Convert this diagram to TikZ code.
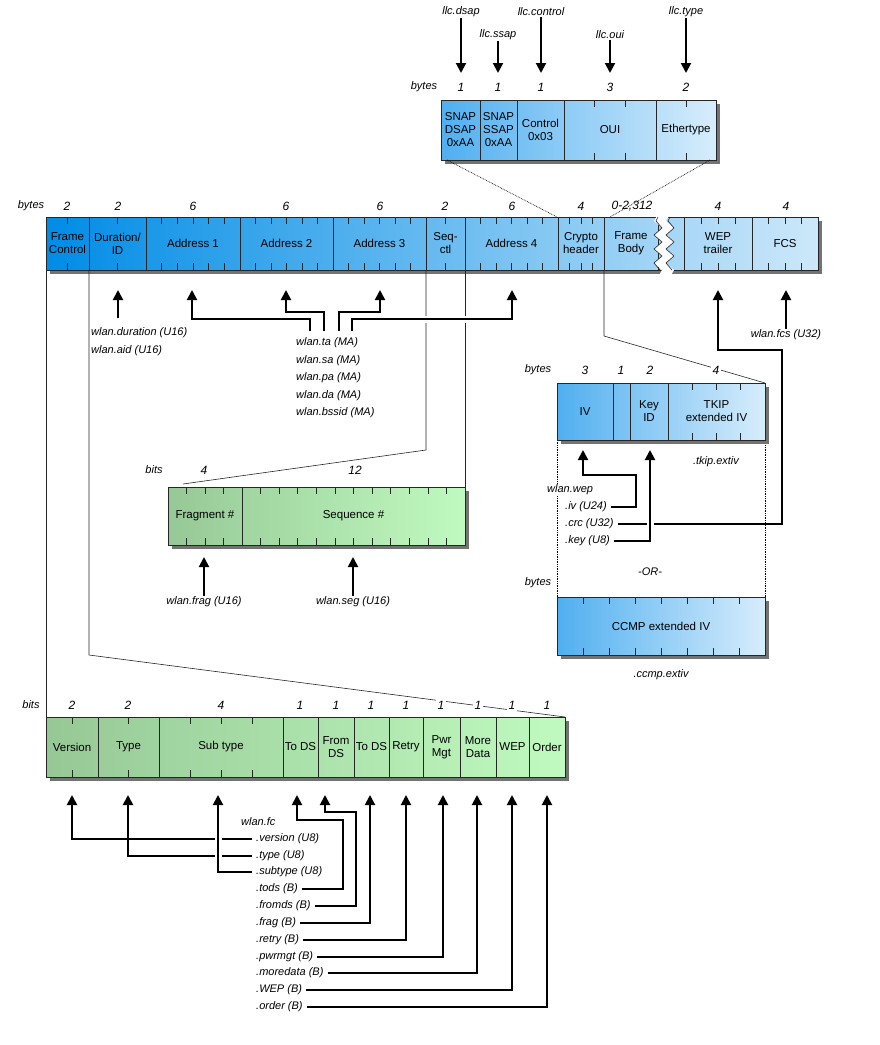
\documentclass[tikz,border=0pt]{standalone}
\usepackage{fontspec}
\setmainfont{Liberation Sans}
\usetikzlibrary{arrows.meta}
\definecolor{mainL}{RGB}{0,140,230}
\definecolor{mainR}{RGB}{205,232,250}
\definecolor{snapL}{RGB}{80,175,240}
\definecolor{snapR}{RGB}{215,237,252}
\definecolor{gL}{RGB}{150,200,150}
\definecolor{gR}{RGB}{192,250,192}
\newcommand\fbar[6]{%
 \fill[black!55] (#1+4,#2+4) rectangle (#3+4,#4+4);
 \shade[left color=#5,right color=#6] (#1,#2) rectangle (#3,#4);}
\newcommand\fld[7]{%
 \draw[thinl] (#2,#4) rectangle (#3,#5);
 \node[ftxt] (#1) at ({(#2+#3)/2},{(#4+#5)/2}) {#7};
 \pgfmathtruncatemacro\nn{#6-1}%
 \ifnum\nn>0 \foreach \i in {1,...,\nn}{\draw[thinl] ({#2+\i*(#3-#2)/#6},#4) -- ++(0,7) ({#2+\i*(#3-#2)/#6},#5) -- ++(0,-7);}\fi}
\begin{document}
\begin{tikzpicture}[x=1pt,y=-1pt,
 lbl/.style={font=\fontsize{11}{13}\selectfont\itshape, inner sep=1pt},
 num/.style={font=\fontsize{12}{13}\selectfont\itshape, inner sep=1.5pt, fill=white},
 ftxt/.style={font=\fontsize{11.5}{13}\selectfont, align=center, inner sep=0pt},
 arr/.style={line width=2pt, -{Triangle[width=10pt,length=10pt]}},
 halo/.style={preaction={draw=white,line width=7pt,-}},
 thinl/.style={line width=0.6pt, black!85},
 dots/.style={line width=0.7pt, densely dotted}]
\useasboundingbox (0,0) rectangle (880,1045);

% ---------- SNAP ----------
\fbar{441}{100}{716}{160}{snapL}{snapR}
\fld{sdsap}{441}{480}{100}{160}{1}{SNAP\\DSAP\\0xAA}
\fld{sssap}{480}{517}{100}{160}{1}{SNAP\\SSAP\\0xAA}
\fld{sctl}{517}{564}{100}{160}{1}{Control\\0x03}
\fld{soui}{564}{656}{100}{160}{3}{OUI}
\node[ftxt] at (610,122) {};
\fld{seth}{656}{716}{100}{160}{2}{Ethertype}
\node[lbl] at (424,87) {bytes};
\foreach \x/\t in {461/1,498/1,541/1,610/3,686/2} \node[num] at (\x,87) {\t};
\node[lbl] (ldsap) at (461,12) {llc.dsap};
\node[lbl] (lssap) at (498,35) {llc.ssap};
\node[lbl] (lctl) at (541,12) {llc.control};
\node[lbl] (loui) at (610,35) {llc.oui};
\node[lbl] (ltype) at (686,12) {llc.type};
\foreach \n in {ldsap,lssap,lctl,loui,ltype} \draw[arr] (\n.south) -- (\n.south |- 0,73);

% ---------- main header ----------
\fbar{46}{217}{818}{270}{mainL}{mainR}
\fld{fc}{46}{89}{217}{270}{2}{Frame\\Control}
\fld{dur}{89}{146}{217}{270}{2}{Duration/\\ID}
\fld{a1}{146}{240}{217}{270}{6}{Address 1}
\fld{a2}{240}{333}{217}{270}{6}{Address 2}
\fld{a3}{333}{426}{217}{270}{6}{Address 3}
\fld{sq}{426}{465}{217}{270}{2}{Seq-\\ctl}
\fld{a4}{465}{558}{217}{270}{6}{Address 4}
\fld{cry}{558}{604}{217}{270}{4}{Crypto\\header}
\fld{body}{604}{658}{217}{270}{1}{Frame\\Body}
\draw[thinl] (658,217) rectangle (684,270);
\fld{wep}{684}{752}{217}{270}{4}{WEP\\trailer}
\fld{fcs}{752}{818}{217}{270}{4}{FCS}
\fill[white] (658,214)--(654,221)--(662,228)--(654,235)--(662,242)--(654,249)--(662,256)--(654,263)--(662,270)--(658,277)
 --(670,277)--(674,270)--(666,263)--(674,256)--(666,249)--(674,242)--(666,235)--(674,228)--(666,221)--(670,214)--cycle;
\draw[thinl] (658,217)--(656,221)--(662,228)--(654,235)--(662,242)--(654,249)--(662,256)--(654,263)--(660,270);
\draw[thinl] (670,217)--(668,221)--(674,228)--(666,235)--(674,242)--(666,249)--(674,256)--(666,263)--(672,270);
\node[lbl] at (31,206) {bytes};
\foreach \x/\t in {67/2,118/2,193/6,286/6,380/6,445/2,512/6,581/4,718/4,786/4} \node[num] at (\x,206) {\t};
\node[num] at (632,206) {0-2,312};
\coordinate (dl1) at (447,160); \coordinate (dl2) at (557,217);
\coordinate (dr1) at (710,160); \coordinate (dr2) at (610,217);
\draw[dots] (dl1) -- (dl2);
\draw[dots] (dr1) -- (dr2);

% thin guide lines
\draw[thinl] (46,270) -- (46,717);
\draw[thinl] (89,270) -- (89,655) -- (565,717);
\draw[thinl] (426,270) -- (426,450) -- (183,484);
\draw[thinl] (465,270) -- (465,487);
\draw[thinl] (604,270) -- (604,336) -- (765,383);

% duration / address fields
\node[lbl,anchor=west] (ldur) at (90,333) {wlan.duration (U16)};
\node[lbl,anchor=west] (laid) at (90,351) {wlan.aid (U16)};
\draw[arr] (118,318) -- (118,290);
\node[lbl,anchor=west] (lta) at (295,343) {wlan.ta (MA)};
\node[lbl,anchor=west] (lsa) at (295,361) {wlan.sa (MA)};
\node[lbl,anchor=west] (lpa) at (295,378) {wlan.pa (MA)};
\node[lbl,anchor=west] (lda) at (295,396) {wlan.da (MA)};
\node[lbl,anchor=west] (lbss) at (295,413) {wlan.bssid (MA)};
\draw[arr,halo] (310,331) -- (310,319) -- (192,319) -- (192,290);
\draw[arr,halo] (324,331) -- (324,312) -- (286,312) -- (286,290);
\draw[arr,halo] (339,331) -- (339,312) -- (380,312) -- (380,290);
\draw[arr,halo] (352,331) -- (352,319) -- (512,319) -- (512,290);
\node[lbl] (lfcs) at (786,335) {wlan.fcs (U32)};
\draw[arr] (lfcs.north) -- (786,290);

% ---------- sequence control ----------
\fbar{168}{487}{465}{545}{gL}{gR}
\fld{frag}{168}{242}{487}{545}{4}{Fragment \#}
\fld{seqn}{242}{465}{487}{545}{12}{Sequence \#}
\node[lbl] at (154,470) {bits};
\node[num] at (204,470) {4};
\node[num] at (355,470) {12};
\node[lbl] (lfrag) at (204,602) {wlan.frag (U16)};
\node[lbl] (lseq) at (353,602) {wlan.seg (U16)};
\draw[arr] (lfrag.north) -- (204,557);
\draw[arr] (lseq.north) -- (353,557);

% ---------- TKIP / CCMP ----------
\draw[dots] (557,440) -- (557,597);
\draw[dots] (765,440) -- (765,597);
\fbar{557}{383}{765}{440}{snapL}{snapR}
\fld{iv}{557}{613}{383}{440}{1}{IV}
\fld{pad}{613}{630}{383}{440}{1}{}
\fld{kid}{630}{668}{383}{440}{1}{Key\\ID}
\fld{tkip}{668}{765}{383}{440}{4}{TKIP\\extended IV}
\node[lbl] at (538,370) {bytes};
\foreach \x/\t in {585/3,621/1,650/2,716/4} \node[num] at (\x,370) {\t};
\node[lbl] at (716,462) {.tkip.extiv};
\node[lbl,anchor=west,fill=white] (lwep) at (546,490) {wlan.wep};
\node[lbl,anchor=west] (liv) at (564,507) {.iv (U24)};
\node[lbl,anchor=west] (lcrc) at (564,524) {.crc (U32)};
\node[lbl,anchor=west] (lkey) at (564,541) {.key (U8)};
\draw[arr] ([xshift=3pt]liv.east) -- (636,507) -- (636,475) -- (583,475) -- (583,450);
\draw[arr] ([xshift=3pt]lcrc.east) -- (782,524) -- (782,350) -- (718,350) -- (718,290);
\draw[arr,halo] ([xshift=3pt]lkey.east) -- (650,541) -- (650,450);
\node[lbl] at (650,572) {-OR-};
\node[lbl,fill=white] at (538,583) {bytes};
\fbar{557}{597}{765}{655}{snapL}{snapR}
\fld{ccmp}{557}{765}{597}{655}{8}{CCMP extended IV}
\node[lbl] at (661,675) {.ccmp.extiv};

% ---------- frame control bits ----------
\fbar{46}{717}{565}{777}{gL}{gR}
\fld{ver}{46}{98}{717}{777}{2}{Version}
\fld{typ}{98}{159}{717}{777}{2}{Type}
\fld{sub}{159}{283}{717}{777}{4}{Sub type}
\fld{tods}{283}{318}{717}{777}{1}{To DS}
\fld{frds}{318}{354}{717}{777}{1}{From\\DS}
\fld{tods2}{354}{389}{717}{777}{1}{To DS}
\fld{retry}{389}{423}{717}{777}{1}{Retry}
\fld{pwr}{423}{460}{717}{777}{1}{Pwr\\Mgt}
\fld{more}{460}{496}{717}{777}{1}{More\\Data}
\fld{bwep}{496}{529}{717}{777}{1}{WEP}
\fld{ord}{529}{565}{717}{777}{1}{Order}
\node[lbl] at (31,705) {bits};
\foreach \x/\t in {72/2,128/2,221/4,300/1,336/1,371/1,406/1,441/1,478/1,512/1,547/1} \node[num] at (\x,705) {\t};

\node[lbl,anchor=west] (lfc) at (240,822) {wlan.fc};
\node[lbl,anchor=west] (bver) at (255,839) {.version (U8)};
\node[lbl,anchor=west] (btyp) at (255,856) {.type (U8)};
\node[lbl,anchor=west] (bsub) at (255,872) {.subtype (U8)};
\node[lbl,anchor=west] (btods) at (255,889) {.tods (B)};
\node[lbl,anchor=west] (bfrds) at (255,906) {.fromds (B)};
\node[lbl,anchor=west] (bfrag) at (255,923) {.frag (B)};
\node[lbl,anchor=west] (bretry) at (255,940) {.retry (B)};
\node[lbl,anchor=west] (bpwr) at (255,957) {.pwrmgt (B)};
\node[lbl,anchor=west] (bmore) at (255,973) {.moredata (B)};
\node[lbl,anchor=west] (bwepl) at (255,990) {.WEP (B)};
\node[lbl,anchor=west] (bord) at (255,1007) {.order (B)};
\draw[arr] ([xshift=-3pt]bver.west) -- (72,839) -- (72,795);
\draw[arr] ([xshift=-3pt]btyp.west) -- (128,856) -- (128,795);
\draw[arr,halo] ([xshift=-3pt]bsub.west) -- (218,872) -- (218,795);
\draw[arr] ([xshift=3pt]btods.east) -- (343,889) -- (343,820) -- (297,820) -- (297,795);
\draw[arr] ([xshift=3pt]bfrds.east) -- (356,906) -- (356,812) -- (325,812) -- (325,795);
\draw[arr] ([xshift=3pt]bfrag.east) -- (370,923) -- (370,795);
\draw[arr] ([xshift=3pt]bretry.east) -- (406,940) -- (406,795);
\draw[arr] ([xshift=3pt]bpwr.east) -- (443,957) -- (443,795);
\draw[arr] ([xshift=3pt]bmore.east) -- (477,973) -- (477,795);
\draw[arr] ([xshift=3pt]bwepl.east) -- (512,990) -- (512,795);
\draw[arr] ([xshift=3pt]bord.east) -- (547,1007) -- (547,795);
\end{tikzpicture}
\end{document}
